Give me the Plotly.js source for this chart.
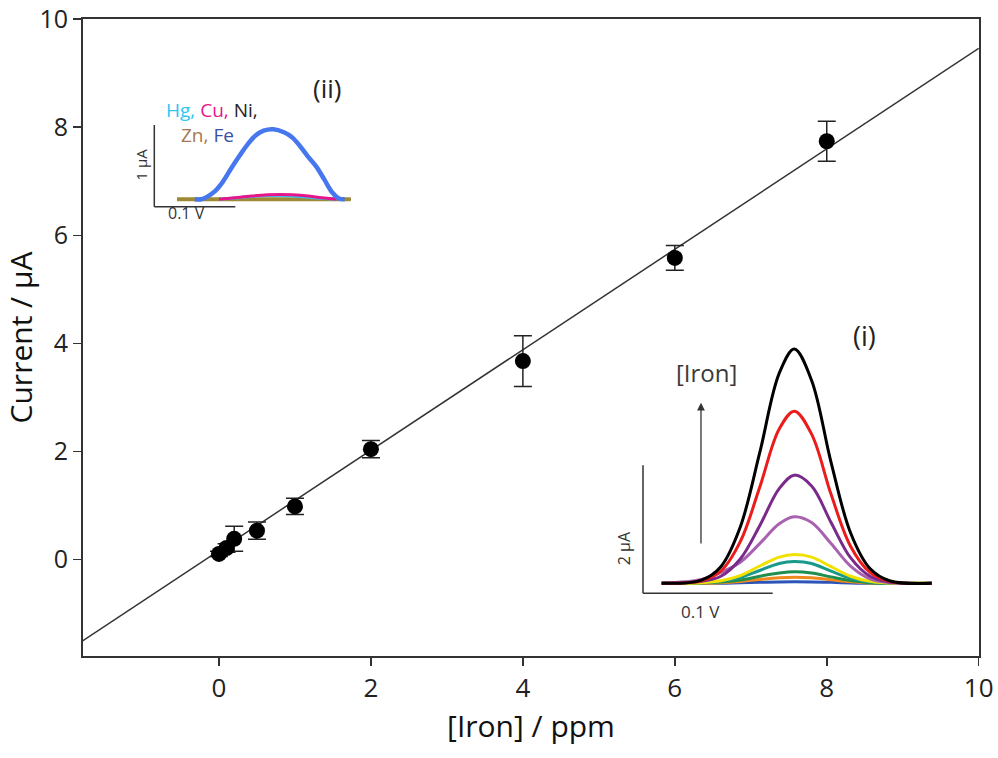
<!DOCTYPE html>
<html><head><meta charset="utf-8">
<script src="https://cdn.plot.ly/plotly-3.0.1.min.js"></script>
<style>html,body{margin:0;padding:0;background:#fff}#chart{width:998px;height:758px}</style>
</head><body><div id="chart"></div>
<script>
// ---------- main calibration data ----------
const ironPpm    = [0, 0.1, 0.2, 0.5, 1, 2, 4, 6, 8];
const currentUA  = [0.10, 0.21, 0.38, 0.53, 0.98, 2.04, 3.67, 5.58, 7.74];
const currentErr = [0.05, 0.08, 0.23, 0.16, 0.15, 0.16, 0.47, 0.23, 0.37];
const fitSlope = 0.93;
const fitIntercept = 0.16;
const fitX = [-1.8, 10];
const xTickVals = [0, 2, 4, 6, 8, 10];
const yTickVals = [0, 2, 4, 6, 8, 10];

// ---------- inset (i): SWV peaks with increasing iron ----------
const insetIPotential = [0.0144, 0.045, 0.06, 0.075, 0.09, 0.105, 0.1167, 0.13, 0.145, 0.16, 0.175, 0.19, 0.2226];
const peakBlue   = [0, 0, 0, 0.008, 0.015, 0.022, 0.025, 0.022, 0.015, 0.006, 0, 0, 0];
const peakOrange = [0, 0, 0.01, 0.03, 0.06, 0.085, 0.094, 0.085, 0.055, 0.025, 0.006, 0, 0];
const peakGreen  = [0, 0.005, 0.02, 0.05, 0.11, 0.16, 0.18, 0.16, 0.10, 0.045, 0.01, 0, 0];
const peakTeal   = [0, 0.01, 0.03, 0.09, 0.20, 0.31, 0.34, 0.31, 0.19, 0.08, 0.02, 0, 0];
const peakYellow = [0, 0.01, 0.04, 0.12, 0.27, 0.41, 0.45, 0.41, 0.26, 0.11, 0.03, 0.005, 0];
const peakOrchid = [0, 0.06, 0.17, 0.33, 0.62, 0.93, 1.04, 0.95, 0.62, 0.27, 0.07, 0.01, 0];
const peakPurple = [0, 0.03, 0.11, 0.38, 0.90, 1.48, 1.69, 1.52, 0.95, 0.40, 0.11, 0.02, 0];
const peakRed    = [0, 0.04, 0.19, 0.65, 1.50, 2.41, 2.69, 2.33, 1.39, 0.58, 0.17, 0.03, 0];
const peakBlack  = [0, 0.05, 0.26, 0.88, 2.04, 3.28, 3.66, 3.17, 1.89, 0.79, 0.23, 0.04, 0];

// ---------- inset (ii): multi-metal interference ----------
const feV  = [0.050, 0.058, 0.065, 0.075, 0.085, 0.095, 0.105, 0.115, 0.125, 0.135, 0.147, 0.160, 0.170, 0.180, 0.190, 0.200, 0.210, 0.220, 0.228, 0.235];
const feI  = [0, 0, 0.03, 0.10, 0.22, 0.38, 0.53, 0.67, 0.78, 0.84, 0.857, 0.82, 0.76, 0.65, 0.52, 0.40, 0.24, 0.08, 0.01, 0];
const smallV = [0.08, 0.10, 0.12, 0.14, 0.155, 0.17, 0.19, 0.21, 0.225];
const cuI  = [0, 0.02, 0.04, 0.055, 0.06, 0.055, 0.04, 0.015, 0];
const hgI  = [0, 0.015, 0.035, 0.045, 0.045, 0.04, 0.025, 0.01, 0];
const flatV = [0.028, 0.2425];
const niI  = [0, 0];
const znI  = [0, 0];

// ---------- geometry helpers (layout only) ----------
const PLOT = {l: 83, r: 19, t: 19, b: 102, W: 998, H: 758};
const pw = PLOT.W - PLOT.l - PLOT.r, ph = PLOT.H - PLOT.t - PLOT.b;
function insetDomains(ox, oy, pxX, pxY, xr, yr) {
  return {
    x: [(ox + xr[0] * pxX - PLOT.l) / pw, (ox + xr[1] * pxX - PLOT.l) / pw],
    y: [(PLOT.t + ph - (oy - yr[0] * pxY)) / ph, (PLOT.t + ph - (oy - yr[1] * pxY)) / ph]
  };
}
const in1Range = {x: [-0.03, 0.25], y: [-0.8, 4.0]};
const in1 = insetDomains(643, 583.3, 1297, 64, in1Range.x, in1Range.y);
const in2Range = {x: [-0.04, 0.26], y: [-0.6, 1.5]};
const in2 = insetDomains(154.3, 199.3, 810, 81.7, in2Range.x, in2Range.y);

const FONT = "'Open Sans', 'Noto Sans', sans-serif";
const AX = '#333';

const traces = [];
// fit line
traces.push({x: fitX, y: fitX.map(v => fitSlope * v + fitIntercept), mode: 'lines',
  line: {color: '#333', width: 1.5}, hoverinfo: 'skip', showlegend: false, xaxis: 'x', yaxis: 'y'});
// data points
traces.push({x: ironPpm, y: currentUA, mode: 'markers', type: 'scatter',
  marker: {color: '#000', size: 16},
  error_y: {type: 'data', array: currentErr, visible: true, color: '#222', thickness: 1.5, width: 9},
  showlegend: false, xaxis: 'x', yaxis: 'y'});

// inset (i) curves
const in1Series = [
  [peakBlue, '#2b53b8'], [peakOrange, '#f08a1c'], [peakGreen, '#1e8f4e'], [peakTeal, '#18998a'],
  [peakYellow, '#f2e100'], [peakOrchid, '#a862b0'], [peakPurple, '#7a2a8a'], [peakRed, '#ea1c1c'], [peakBlack, '#000000']
];
in1Series.forEach(([ys, c]) => traces.push({x: insetIPotential, y: ys, mode: 'lines',
  line: {color: c, width: 3, shape: 'spline', smoothing: 1}, hoverinfo: 'skip', showlegend: false,
  xaxis: 'x2', yaxis: 'y2', cliponaxis: false}));

// inset (ii) curves
traces.push({x: flatV, y: niI, mode: 'lines', line: {color: '#222', width: 2}, showlegend: false, xaxis: 'x3', yaxis: 'y3', cliponaxis: false});
traces.push({x: flatV, y: znI, mode: 'lines', line: {color: '#9e8a35', width: 4}, showlegend: false, xaxis: 'x3', yaxis: 'y3', cliponaxis: false});
traces.push({x: smallV, y: hgI, mode: 'lines', line: {color: '#2ec4f0', width: 3, shape: 'spline'}, showlegend: false, xaxis: 'x3', yaxis: 'y3', cliponaxis: false});
traces.push({x: smallV, y: cuI, mode: 'lines', line: {color: '#e8158a', width: 3, shape: 'spline'}, showlegend: false, xaxis: 'x3', yaxis: 'y3', cliponaxis: false});
traces.push({x: feV, y: feI, mode: 'lines', line: {color: '#4677ee', width: 4.5, shape: 'spline', smoothing: 1}, showlegend: false, xaxis: 'x3', yaxis: 'y3', cliponaxis: false});

const hiddenAx = (dom, range, anchor) => ({domain: dom, range: range, anchor: anchor, visible: false,
  showgrid: false, zeroline: false, fixedrange: true});

// scale bars (inset units)
const barV = 0.1;
const bar1I = 2, bar1Base = -0.156;
const bar2I = 1, bar2Base = -0.09;

const shapes = [
  {type: 'line', xref: 'x2', yref: 'y2', x0: 0, x1: 0, y0: bar1Base, y1: bar1Base + bar1I, line: {color: AX, width: 1.5}},
  {type: 'line', xref: 'x2', yref: 'y2', x0: 0, x1: barV, y0: bar1Base, y1: bar1Base, line: {color: AX, width: 1.5}},
  {type: 'line', xref: 'x3', yref: 'y3', x0: 0, x1: 0, y0: bar2Base, y1: bar2Base + bar2I, line: {color: AX, width: 1.5}},
  {type: 'line', xref: 'x3', yref: 'y3', x0: 0, x1: barV, y0: bar2Base, y1: bar2Base, line: {color: AX, width: 1.5}}
];

const annotations = [
  {xref: 'x2', yref: 'y2', x: 0.0447, y: 2.82, ax: 0.0447, ay: 0.60, axref: 'x2', ayref: 'y2', text: '',
   showarrow: true, arrowhead: 2, arrowsize: 1.2, arrowwidth: 1.3, arrowcolor: '#333'},
  {xref: 'x2', yref: 'y2', x: 0.0486, y: 3.29, text: '[Iron]', showarrow: false, font: {family: FONT, size: 24, color: '#3a3a3a'}},
  {xref: 'x2', yref: 'y2', x: 0.171, y: 3.87, text: '(i)', showarrow: false, font: {family: FONT, size: 27, color: '#222'}},
  {xref: 'x2', yref: 'y2', x: 0.044, y: -0.445, text: '0.1 V', showarrow: false, font: {family: FONT, size: 17, color: '#333'}},
  {xref: 'x2', yref: 'y2', x: -0.015, y: 0.54, text: '2 µA', textangle: -90, showarrow: false, font: {family: FONT, size: 16, color: '#333'}},
  {xref: 'x3', yref: 'y3', x: 0.0125, y: 1.093, xanchor: 'left', showarrow: false, font: {family: FONT, size: 19, color: '#222'},
   text: "<span style='color:#2ec4f0'>Hg,</span> <span style='color:#e8158a'>Cu,</span> <span style='color:#222'>Ni,</span>"},
  {xref: 'x3', yref: 'y3', x: 0.031, y: 0.787, xanchor: 'left', showarrow: false, font: {family: FONT, size: 19, color: '#222'},
   text: "<span style='color:#a57850'>Zn,</span> <span style='color:#3b4fa8'>Fe</span>"},
  {xref: 'x3', yref: 'y3', x: 0.213, y: 1.362, text: '(ii)', showarrow: false, font: {family: FONT, size: 26, color: '#222'}},
  {xref: 'x3', yref: 'y3', x: 0.04, y: -0.17, text: '0.1 V', showarrow: false, font: {family: FONT, size: 16, color: '#333'}},
  {xref: 'x3', yref: 'y3', x: -0.017, y: 0.42, text: '1 µA', textangle: -90, showarrow: false, font: {family: FONT, size: 15, color: '#333'}}
];

const layout = {
  width: PLOT.W, height: PLOT.H,
  margin: {l: PLOT.l, r: PLOT.r, t: PLOT.t, b: PLOT.b, pad: 0},
  paper_bgcolor: '#fff', plot_bgcolor: '#fff',
  font: {family: FONT, color: '#222'},
  showlegend: false,
  xaxis: {range: [-1.79, 10.004], tickvals: xTickVals, ticks: 'outside', ticklen: 8, tickwidth: 1.5, tickcolor: AX,
    showline: true, linecolor: AX, linewidth: 2, mirror: true, showgrid: false, zeroline: false,
    ticklabeloverflow: 'allow',
    tickfont: {family: FONT, size: 26, color: '#222'},
    title: {text: '[Iron] / ppm', font: {family: FONT, size: 30, color: '#111'}, standoff: 12}},
  yaxis: {range: [-1.79, 10.004], tickvals: yTickVals, ticks: 'outside', ticklen: 8, tickwidth: 1.5, tickcolor: AX,
    showline: true, linecolor: AX, linewidth: 2, mirror: true, showgrid: false, zeroline: false,
    ticklabeloverflow: 'allow',
    tickfont: {family: FONT, size: 25, color: '#222'},
    title: {text: 'Current / µA', font: {family: FONT, size: 30, color: '#111'}, standoff: 14}},
  xaxis2: hiddenAx(in1.x, in1Range.x, 'y2'),
  yaxis2: hiddenAx(in1.y, in1Range.y, 'x2'),
  xaxis3: hiddenAx(in2.x, in2Range.x, 'y3'),
  yaxis3: hiddenAx(in2.y, in2Range.y, 'x3'),
  shapes: shapes,
  annotations: annotations
};

Plotly.newPlot('chart', traces, layout, {displayModeBar: false, staticPlot: true});
</script>
</body></html>
